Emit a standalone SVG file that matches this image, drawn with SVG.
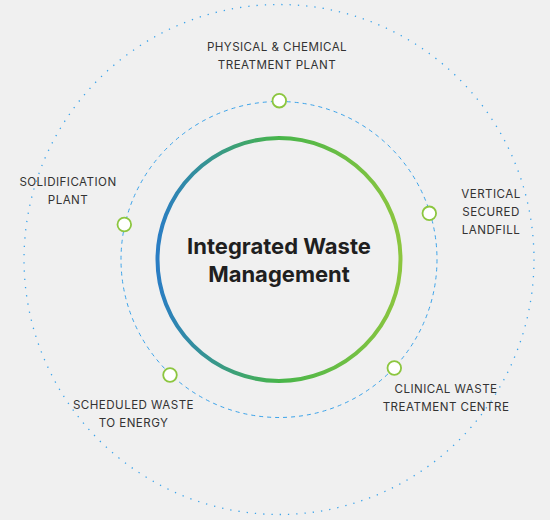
<svg xmlns="http://www.w3.org/2000/svg" width="550" height="520" viewBox="0 0 550 520">
<defs>
<linearGradient id="ring" x1="0" y1="0" x2="1" y2="0">
<stop offset="0" stop-color="#2a7dc4"/>
<stop offset="0.5" stop-color="#47b54a"/>
<stop offset="1" stop-color="#8cc63f"/>
</linearGradient>
<style>
.lbl{font-family:Inter,"Liberation Sans",sans-serif;font-size:11.6px;fill:#333;text-anchor:middle;letter-spacing:0.45px}
.title{font-family:Inter,"Liberation Sans",sans-serif;font-size:22px;font-weight:700;fill:#1f1f1f;text-anchor:middle}
.node{fill:#fff;stroke:#8cc63f;stroke-width:1.8}
</style>
</defs>
<rect width="550" height="520" fill="#f0f0f0"/>
<g id="connectors">
<circle cx="279" cy="259.5" r="255" fill="none" stroke="#3ba3ea" stroke-width="1.3" stroke-dasharray="1.3 7"/>
<circle cx="279" cy="259.5" r="158" fill="none" stroke="#3ba3ea" stroke-width="1" stroke-dasharray="4 4"/>
</g>
<g id="center">
<circle cx="279" cy="259.5" r="121.5" fill="none" stroke="url(#ring)" stroke-width="4"/>
<text class="title" x="279" y="254">Integrated Waste</text>
<text class="title" x="279" y="282">Management</text>
</g>
<g id="physical">
<circle class="node" cx="279.3" cy="100.7" r="6.8"/>
<text class="lbl" x="277" y="51">PHYSICAL &amp; CHEMICAL</text>
<text class="lbl" x="277" y="69">TREATMENT PLANT</text>
</g>
<g id="landfill">
<circle class="node" cx="429.3" cy="213.3" r="6.8"/>
<text class="lbl" x="491" y="198">VERTICAL</text>
<text class="lbl" x="491" y="216">SECURED</text>
<text class="lbl" x="491" y="234">LANDFILL</text>
</g>
<g id="clinical">
<circle class="node" cx="394.3" cy="368" r="6.8"/>
<text class="lbl" x="446" y="393">CLINICAL WASTE</text>
<text class="lbl" x="446" y="411">TREATMENT CENTRE</text>
</g>
<g id="scheduled">
<circle class="node" cx="170" cy="375" r="6.8"/>
<text class="lbl" x="133.5" y="409">SCHEDULED WASTE</text>
<text class="lbl" x="133.5" y="427">TO ENERGY</text>
</g>
<g id="solidification">
<circle class="node" cx="124.3" cy="224.5" r="6.8"/>
<text class="lbl" x="68" y="186">SOLIDIFICATION</text>
<text class="lbl" x="68" y="204">PLANT</text>
</g>
</svg>
